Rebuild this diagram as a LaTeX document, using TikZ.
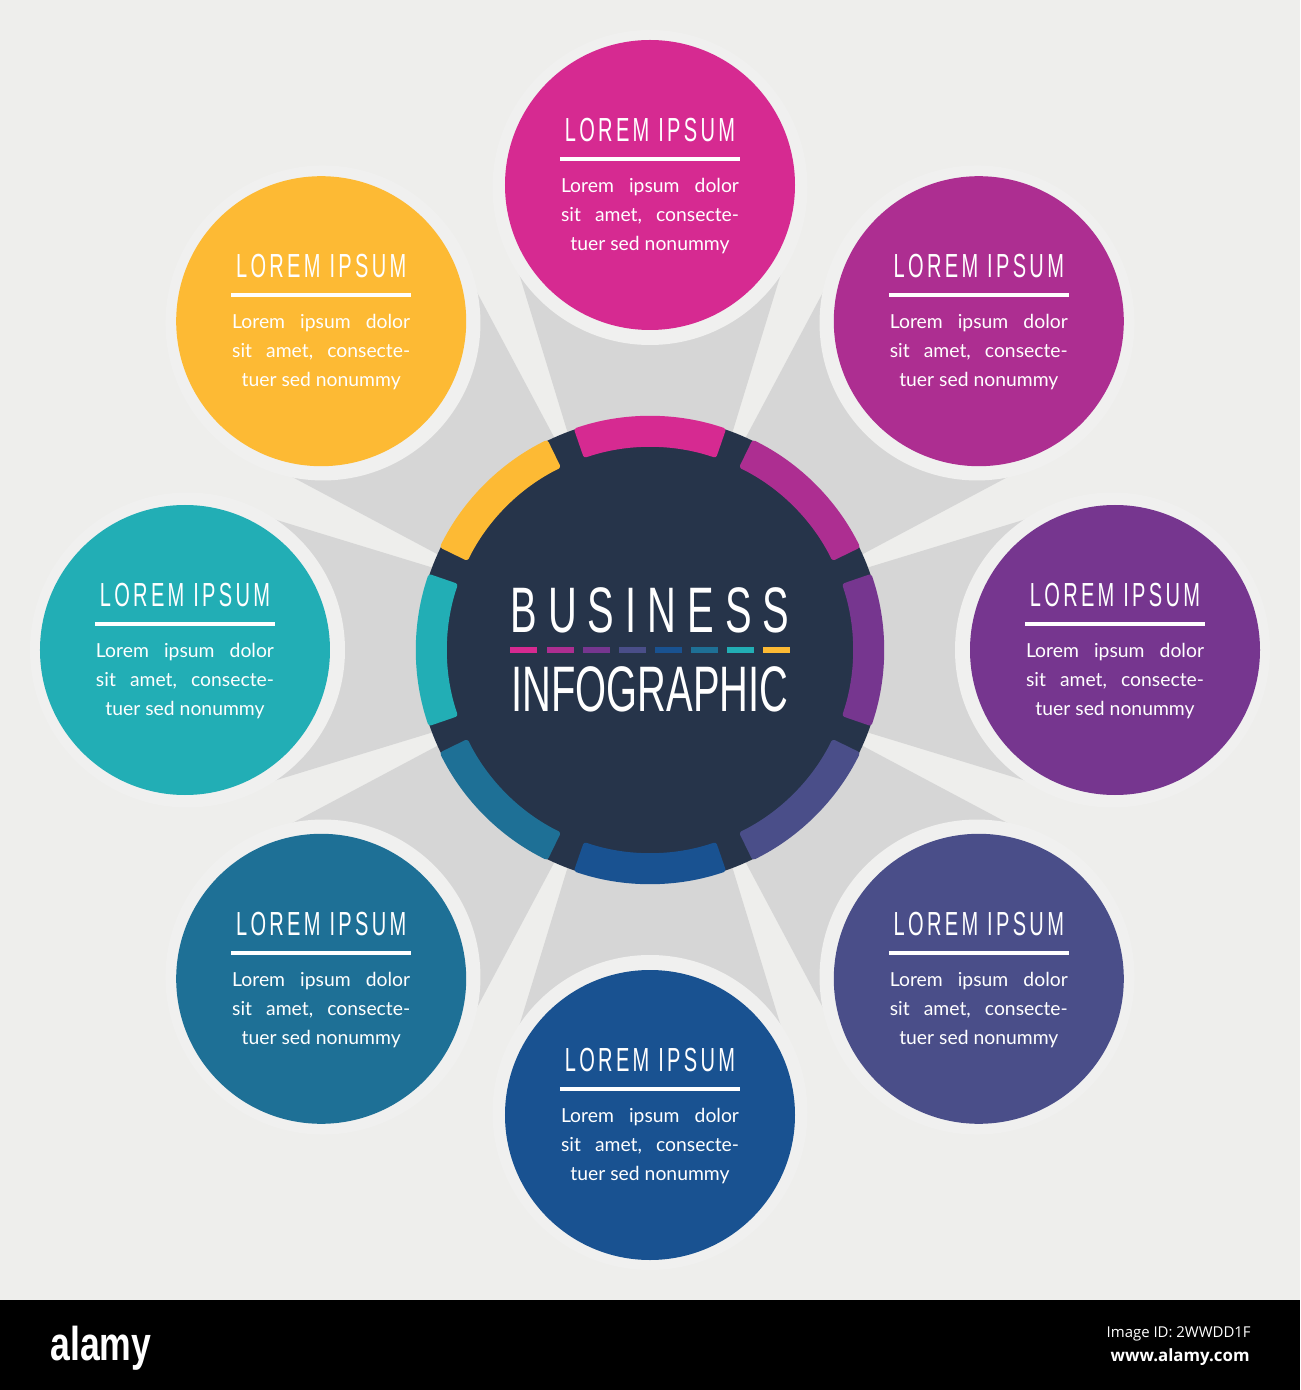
\documentclass[tikz,border=0pt]{standalone}
\usepackage{fontspec}
\setmainfont{Lato}
\newfontfamily\condfont[FakeStretch=0.62]{Liberation Sans}
\newfontfamily\headfont[FakeStretch=0.6,LetterSpace=10]{Liberation Sans}
\newfontfamily\logofont[FakeStretch=0.75]{Liberation Sans}
\newfontfamily\idfont{Open Sans}
\definecolor{bgc}{RGB}{238,238,236}
\definecolor{wedgec}{RGB}{214,214,214}
\definecolor{haloc}{RGB}{240,240,239}
\definecolor{darkc}{RGB}{38,52,74}
\definecolor{pinkc}{RGB}{214,42,145}
\definecolor{orchidc}{RGB}{173,46,145}
\definecolor{purplec}{RGB}{118,54,143}
\definecolor{indigoc}{RGB}{74,78,137}
\definecolor{bluec}{RGB}{25,82,145}
\definecolor{petrolc}{RGB}{30,112,150}
\definecolor{tealc}{RGB}{34,174,181}
\definecolor{yellowc}{RGB}{253,186,52}
\tikzset{
  wedge/.style={fill=wedgec},
  halo/.style={circle, fill=haloc, minimum size=6.3cm, inner sep=0pt},
  bubble/.style={circle, minimum size=5.8cm, inner sep=0pt},
  headtext/.style={text=white, inner sep=0pt, font=\headfont\fontsize{19}{19}\selectfont},
  bodytext/.style={text=white, align=center, inner sep=0pt, font=\fontsize{11}{16.5}\selectfont},
  bigtext/.style={text=white, inner sep=0pt, font=\condfont\fontsize{36.6}{36.6}\selectfont}
}
\begin{document}
\begin{tikzpicture}
  \useasboundingbox (-13,-14.8) rectangle (13,13);
  \fill[bgc] (-13,-13) rectangle (13,13);
  \fill[black] (-13,-14.8) rectangle (13,-13);
  \foreach \ang in {90,45,0,-45,-90,-135,180,135}
    \fill[wedge] (\ang+180:1.04) -- ++(\ang-17:10.5) -- ++(\ang+90:6.14) -- cycle;
  \foreach \ang/\col [count=\n] in {90/pinkc,45/orchidc,0/purplec,-45/indigoc,-90/bluec,-135/petrolc,180/tealc,135/yellowc} {
    \node[halo] (h\n) at (\ang:9.25) {};
    \node[bubble, fill=\col] (b\n) at (\ang:9.3) {};
    \node[headtext] (t\n) at ([yshift=1.1cm]b\n.center) {LOREM IPSUM};
    \draw[white, line width=0.08cm] ([xshift=-1.8cm,yshift=0.52cm]b\n.center) -- ([xshift=1.8cm,yshift=0.52cm]b\n.center);
    \node[bodytext] (d\n) at ([yshift=-0.62cm]b\n.center) {\makebox[3.56cm][s]{Lorem\hfill ipsum\hfill dolor}\\\makebox[3.56cm][s]{sit\hfill amet,\hfill consecte-}\\tuer sed nonummy};
  }
  \node[circle, fill=darkc, minimum size=9.32cm, inner sep=0pt] (hub) at (0,0) {};
  \foreach \ang/\col in {90/pinkc,45/orchidc,0/purplec,-45/indigoc,-90/bluec,-135/petrolc,180/tealc,135/yellowc}
    \fill[\col, rounded corners=1.5pt] (\ang-19:4.68) arc[start angle=\ang-19, end angle=\ang+19, radius=4.68] -- (\ang+19:4.06) arc[start angle=\ang+19, end angle=\ang-19, radius=4.06] -- cycle;
  \node[bigtext] (biz) at (0,0.8) {\makebox[5.58cm][s]{B\hfill U\hfill S\hfill I\hfill N\hfill E\hfill S\hfill S}};
  \node[bigtext] (info) at (0,-0.78) {INFOGRAPHIC};
  \foreach \col [count=\k from 0] in {pinkc,orchidc,purplec,indigoc,bluec,petrolc,tealc,yellowc}
    \fill[\col] (-2.79+0.72*\k,-0.06) rectangle ++(0.54,0.12);
  \node[text=white, inner sep=0pt, anchor=base west, font=\logofont\bfseries\fontsize{27}{27}\selectfont] (logo) at (-12,-14.2) {alamy};
  \node[text=white, inner sep=0pt, anchor=base east, font=\idfont\fontsize{8.5}{8.5}\selectfont] (imgid) at (12.02,-13.74) {Image ID: 2WWDD1F};
  \node[text=white, inner sep=0pt, anchor=base east, font=\idfont\bfseries\fontsize{9.6}{9.6}\selectfont] (site) at (12,-14.22) {www.alamy.com};
\end{tikzpicture}
\end{document}
